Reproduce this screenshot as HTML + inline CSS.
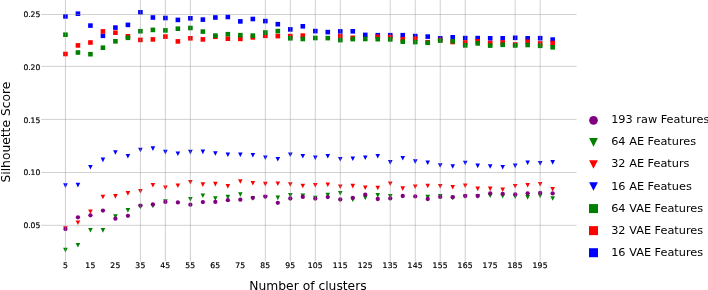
<!DOCTYPE html>
<html><head><meta charset="utf-8"><style>
html,body{margin:0;padding:0;background:#fff;}
svg{display:block;}
text{font-family:"DejaVu Sans","Liberation Sans",sans-serif;fill:#000000;stroke:#000000;stroke-width:0.2px;}
text.lg{stroke:none;}
</style></head><body>
<svg width="708" height="290" viewBox="0 0 708 290">
<rect width="708" height="290" fill="#fff"/>
<g id="markers">
<rect x="63.15" y="14.10" width="4.60" height="4.60" fill="#0000ff"/>
<rect x="75.64" y="11.40" width="4.60" height="4.60" fill="#0000ff"/>
<rect x="88.14" y="23.30" width="4.60" height="4.60" fill="#0000ff"/>
<rect x="100.63" y="33.50" width="4.60" height="4.60" fill="#0000ff"/>
<rect x="113.12" y="25.30" width="4.60" height="4.60" fill="#0000ff"/>
<rect x="125.61" y="22.60" width="4.60" height="4.60" fill="#0000ff"/>
<rect x="138.10" y="10.00" width="4.60" height="4.60" fill="#0000ff"/>
<rect x="150.60" y="15.20" width="4.60" height="4.60" fill="#0000ff"/>
<rect x="163.09" y="15.70" width="4.60" height="4.60" fill="#0000ff"/>
<rect x="175.58" y="17.60" width="4.60" height="4.60" fill="#0000ff"/>
<rect x="188.07" y="16.00" width="4.60" height="4.60" fill="#0000ff"/>
<rect x="200.57" y="17.30" width="4.60" height="4.60" fill="#0000ff"/>
<rect x="213.06" y="15.20" width="4.60" height="4.60" fill="#0000ff"/>
<rect x="225.55" y="14.70" width="4.60" height="4.60" fill="#0000ff"/>
<rect x="238.04" y="19.10" width="4.60" height="4.60" fill="#0000ff"/>
<rect x="250.54" y="16.70" width="4.60" height="4.60" fill="#0000ff"/>
<rect x="263.03" y="18.80" width="4.60" height="4.60" fill="#0000ff"/>
<rect x="275.52" y="21.90" width="4.60" height="4.60" fill="#0000ff"/>
<rect x="288.01" y="27.10" width="4.60" height="4.60" fill="#0000ff"/>
<rect x="300.51" y="24.00" width="4.60" height="4.60" fill="#0000ff"/>
<rect x="313.00" y="28.80" width="4.60" height="4.60" fill="#0000ff"/>
<rect x="325.49" y="29.80" width="4.60" height="4.60" fill="#0000ff"/>
<rect x="337.98" y="29.10" width="4.60" height="4.60" fill="#0000ff"/>
<rect x="350.48" y="29.00" width="4.60" height="4.60" fill="#0000ff"/>
<rect x="362.97" y="32.60" width="4.60" height="4.60" fill="#0000ff"/>
<rect x="375.46" y="32.90" width="4.60" height="4.60" fill="#0000ff"/>
<rect x="387.95" y="32.90" width="4.60" height="4.60" fill="#0000ff"/>
<rect x="400.45" y="32.90" width="4.60" height="4.60" fill="#0000ff"/>
<rect x="412.94" y="33.80" width="4.60" height="4.60" fill="#0000ff"/>
<rect x="425.43" y="34.30" width="4.60" height="4.60" fill="#0000ff"/>
<rect x="437.92" y="36.00" width="4.60" height="4.60" fill="#0000ff"/>
<rect x="450.42" y="35.00" width="4.60" height="4.60" fill="#0000ff"/>
<rect x="462.91" y="35.80" width="4.60" height="4.60" fill="#0000ff"/>
<rect x="475.40" y="35.80" width="4.60" height="4.60" fill="#0000ff"/>
<rect x="487.89" y="36.00" width="4.60" height="4.60" fill="#0000ff"/>
<rect x="500.39" y="36.00" width="4.60" height="4.60" fill="#0000ff"/>
<rect x="512.88" y="35.50" width="4.60" height="4.60" fill="#0000ff"/>
<rect x="525.37" y="36.00" width="4.60" height="4.60" fill="#0000ff"/>
<rect x="537.87" y="35.90" width="4.60" height="4.60" fill="#0000ff"/>
<rect x="550.36" y="37.30" width="4.60" height="4.60" fill="#0000ff"/>
<rect x="63.15" y="51.70" width="4.60" height="4.60" fill="#ff0000"/>
<rect x="75.64" y="43.10" width="4.60" height="4.60" fill="#ff0000"/>
<rect x="88.14" y="40.20" width="4.60" height="4.60" fill="#ff0000"/>
<rect x="100.63" y="29.10" width="4.60" height="4.60" fill="#ff0000"/>
<rect x="113.12" y="30.40" width="4.60" height="4.60" fill="#ff0000"/>
<rect x="125.61" y="34.00" width="4.60" height="4.60" fill="#ff0000"/>
<rect x="138.10" y="37.60" width="4.60" height="4.60" fill="#ff0000"/>
<rect x="150.60" y="37.10" width="4.60" height="4.60" fill="#ff0000"/>
<rect x="163.09" y="34.30" width="4.60" height="4.60" fill="#ff0000"/>
<rect x="175.58" y="39.10" width="4.60" height="4.60" fill="#ff0000"/>
<rect x="188.07" y="36.00" width="4.60" height="4.60" fill="#ff0000"/>
<rect x="200.57" y="37.10" width="4.60" height="4.60" fill="#ff0000"/>
<rect x="213.06" y="34.50" width="4.60" height="4.60" fill="#ff0000"/>
<rect x="225.55" y="36.40" width="4.60" height="4.60" fill="#ff0000"/>
<rect x="238.04" y="36.60" width="4.60" height="4.60" fill="#ff0000"/>
<rect x="250.54" y="35.10" width="4.60" height="4.60" fill="#ff0000"/>
<rect x="263.03" y="33.50" width="4.60" height="4.60" fill="#ff0000"/>
<rect x="275.52" y="33.80" width="4.60" height="4.60" fill="#ff0000"/>
<rect x="288.01" y="33.80" width="4.60" height="4.60" fill="#ff0000"/>
<rect x="300.51" y="33.30" width="4.60" height="4.60" fill="#ff0000"/>
<rect x="337.98" y="33.80" width="4.60" height="4.60" fill="#ff0000"/>
<rect x="350.48" y="35.50" width="4.60" height="4.60" fill="#ff0000"/>
<rect x="375.46" y="34.50" width="4.60" height="4.60" fill="#ff0000"/>
<rect x="387.95" y="34.70" width="4.60" height="4.60" fill="#ff0000"/>
<rect x="400.45" y="36.90" width="4.60" height="4.60" fill="#ff0000"/>
<rect x="412.94" y="36.40" width="4.60" height="4.60" fill="#ff0000"/>
<rect x="425.43" y="39.90" width="4.60" height="4.60" fill="#ff0000"/>
<rect x="437.92" y="37.70" width="4.60" height="4.60" fill="#ff0000"/>
<rect x="450.42" y="39.70" width="4.60" height="4.60" fill="#ff0000"/>
<rect x="462.91" y="40.20" width="4.60" height="4.60" fill="#ff0000"/>
<rect x="475.40" y="39.00" width="4.60" height="4.60" fill="#ff0000"/>
<rect x="487.89" y="40.70" width="4.60" height="4.60" fill="#ff0000"/>
<rect x="500.39" y="40.20" width="4.60" height="4.60" fill="#ff0000"/>
<rect x="512.88" y="42.20" width="4.60" height="4.60" fill="#ff0000"/>
<rect x="525.37" y="39.40" width="4.60" height="4.60" fill="#ff0000"/>
<rect x="537.87" y="41.10" width="4.60" height="4.60" fill="#ff0000"/>
<rect x="550.36" y="40.70" width="4.60" height="4.60" fill="#ff0000"/>
<rect x="63.15" y="32.40" width="4.60" height="4.60" fill="#008000"/>
<rect x="75.64" y="50.20" width="4.60" height="4.60" fill="#008000"/>
<rect x="88.14" y="51.90" width="4.60" height="4.60" fill="#008000"/>
<rect x="100.63" y="45.40" width="4.60" height="4.60" fill="#008000"/>
<rect x="113.12" y="39.00" width="4.60" height="4.60" fill="#008000"/>
<rect x="125.61" y="35.50" width="4.60" height="4.60" fill="#008000"/>
<rect x="138.10" y="28.90" width="4.60" height="4.60" fill="#008000"/>
<rect x="150.60" y="27.60" width="4.60" height="4.60" fill="#008000"/>
<rect x="163.09" y="28.10" width="4.60" height="4.60" fill="#008000"/>
<rect x="175.58" y="26.40" width="4.60" height="4.60" fill="#008000"/>
<rect x="188.07" y="25.70" width="4.60" height="4.60" fill="#008000"/>
<rect x="200.57" y="29.30" width="4.60" height="4.60" fill="#008000"/>
<rect x="213.06" y="33.30" width="4.60" height="4.60" fill="#008000"/>
<rect x="225.55" y="31.90" width="4.60" height="4.60" fill="#008000"/>
<rect x="238.04" y="32.90" width="4.60" height="4.60" fill="#008000"/>
<rect x="250.54" y="33.30" width="4.60" height="4.60" fill="#008000"/>
<rect x="263.03" y="30.20" width="4.60" height="4.60" fill="#008000"/>
<rect x="275.52" y="28.80" width="4.60" height="4.60" fill="#008000"/>
<rect x="288.01" y="36.00" width="4.60" height="4.60" fill="#008000"/>
<rect x="300.51" y="36.70" width="4.60" height="4.60" fill="#008000"/>
<rect x="313.00" y="35.70" width="4.60" height="4.60" fill="#008000"/>
<rect x="325.49" y="35.80" width="4.60" height="4.60" fill="#008000"/>
<rect x="337.98" y="37.80" width="4.60" height="4.60" fill="#008000"/>
<rect x="350.48" y="36.80" width="4.60" height="4.60" fill="#008000"/>
<rect x="362.97" y="36.70" width="4.60" height="4.60" fill="#008000"/>
<rect x="375.46" y="36.90" width="4.60" height="4.60" fill="#008000"/>
<rect x="387.95" y="37.10" width="4.60" height="4.60" fill="#008000"/>
<rect x="400.45" y="39.40" width="4.60" height="4.60" fill="#008000"/>
<rect x="412.94" y="39.80" width="4.60" height="4.60" fill="#008000"/>
<rect x="425.43" y="40.50" width="4.60" height="4.60" fill="#008000"/>
<rect x="437.92" y="38.30" width="4.60" height="4.60" fill="#008000"/>
<rect x="450.42" y="39.00" width="4.60" height="4.60" fill="#008000"/>
<rect x="462.91" y="43.10" width="4.60" height="4.60" fill="#008000"/>
<rect x="475.40" y="41.10" width="4.60" height="4.60" fill="#008000"/>
<rect x="487.89" y="43.30" width="4.60" height="4.60" fill="#008000"/>
<rect x="500.39" y="42.50" width="4.60" height="4.60" fill="#008000"/>
<rect x="512.88" y="43.20" width="4.60" height="4.60" fill="#008000"/>
<rect x="525.37" y="42.70" width="4.60" height="4.60" fill="#008000"/>
<rect x="537.87" y="43.50" width="4.60" height="4.60" fill="#008000"/>
<rect x="550.36" y="45.00" width="4.60" height="4.60" fill="#008000"/>
<path d="M63.15,183.30L67.75,183.30L65.45,187.90Z" fill="#0000ff"/>
<path d="M75.64,182.80L80.24,182.80L77.94,187.40Z" fill="#0000ff"/>
<path d="M88.14,164.90L92.73,164.90L90.44,169.50Z" fill="#0000ff"/>
<path d="M100.63,157.60L105.23,157.60L102.93,162.20Z" fill="#0000ff"/>
<path d="M113.12,150.20L117.72,150.20L115.42,154.80Z" fill="#0000ff"/>
<path d="M125.61,153.90L130.21,153.90L127.91,158.50Z" fill="#0000ff"/>
<path d="M138.10,147.70L142.71,147.70L140.41,152.30Z" fill="#0000ff"/>
<path d="M150.60,146.30L155.20,146.30L152.90,150.90Z" fill="#0000ff"/>
<path d="M163.09,149.80L167.69,149.80L165.39,154.40Z" fill="#0000ff"/>
<path d="M175.58,151.40L180.18,151.40L177.88,156.00Z" fill="#0000ff"/>
<path d="M188.07,149.80L192.68,149.80L190.38,154.40Z" fill="#0000ff"/>
<path d="M200.57,149.60L205.17,149.60L202.87,154.20Z" fill="#0000ff"/>
<path d="M213.06,151.20L217.66,151.20L215.36,155.80Z" fill="#0000ff"/>
<path d="M225.55,152.50L230.15,152.50L227.85,157.10Z" fill="#0000ff"/>
<path d="M238.04,152.50L242.64,152.50L240.34,157.10Z" fill="#0000ff"/>
<path d="M250.54,152.90L255.14,152.90L252.84,157.50Z" fill="#0000ff"/>
<path d="M263.03,155.40L267.63,155.40L265.33,160.00Z" fill="#0000ff"/>
<path d="M275.52,157.00L280.12,157.00L277.82,161.60Z" fill="#0000ff"/>
<path d="M288.01,152.50L292.62,152.50L290.31,157.10Z" fill="#0000ff"/>
<path d="M300.51,153.90L305.11,153.90L302.81,158.50Z" fill="#0000ff"/>
<path d="M313.00,155.60L317.60,155.60L315.30,160.20Z" fill="#0000ff"/>
<path d="M325.49,153.90L330.09,153.90L327.79,158.50Z" fill="#0000ff"/>
<path d="M337.98,157.00L342.58,157.00L340.28,161.60Z" fill="#0000ff"/>
<path d="M350.48,156.40L355.08,156.40L352.78,161.00Z" fill="#0000ff"/>
<path d="M362.97,155.40L367.57,155.40L365.27,160.00Z" fill="#0000ff"/>
<path d="M375.46,153.90L380.06,153.90L377.76,158.50Z" fill="#0000ff"/>
<path d="M387.95,160.10L392.56,160.10L390.25,164.70Z" fill="#0000ff"/>
<path d="M400.45,156.00L405.05,156.00L402.75,160.60Z" fill="#0000ff"/>
<path d="M412.94,159.30L417.54,159.30L415.24,163.90Z" fill="#0000ff"/>
<path d="M425.43,160.50L430.03,160.50L427.73,165.10Z" fill="#0000ff"/>
<path d="M437.92,163.20L442.52,163.20L440.22,167.80Z" fill="#0000ff"/>
<path d="M450.42,164.20L455.02,164.20L452.72,168.80Z" fill="#0000ff"/>
<path d="M462.91,160.70L467.51,160.70L465.21,165.30Z" fill="#0000ff"/>
<path d="M475.40,163.60L480.00,163.60L477.70,168.20Z" fill="#0000ff"/>
<path d="M487.89,164.20L492.50,164.20L490.19,168.80Z" fill="#0000ff"/>
<path d="M500.39,164.90L504.99,164.90L502.69,169.50Z" fill="#0000ff"/>
<path d="M512.88,163.60L517.48,163.60L515.18,168.20Z" fill="#0000ff"/>
<path d="M525.37,160.50L529.97,160.50L527.67,165.10Z" fill="#0000ff"/>
<path d="M537.87,161.10L542.46,161.10L540.16,165.70Z" fill="#0000ff"/>
<path d="M550.36,160.10L554.96,160.10L552.66,164.70Z" fill="#0000ff"/>
<path d="M63.15,226.20L67.75,226.20L65.45,230.80Z" fill="#ff0000"/>
<path d="M75.64,220.40L80.24,220.40L77.94,225.00Z" fill="#ff0000"/>
<path d="M88.14,209.40L92.73,209.40L90.44,214.00Z" fill="#ff0000"/>
<path d="M100.63,194.70L105.23,194.70L102.93,199.30Z" fill="#ff0000"/>
<path d="M113.12,194.10L117.72,194.10L115.42,198.70Z" fill="#ff0000"/>
<path d="M125.61,191.10L130.21,191.10L127.91,195.70Z" fill="#ff0000"/>
<path d="M138.10,189.00L142.71,189.00L140.41,193.60Z" fill="#ff0000"/>
<path d="M150.60,183.00L155.20,183.00L152.90,187.60Z" fill="#ff0000"/>
<path d="M163.09,185.40L167.69,185.40L165.39,190.00Z" fill="#ff0000"/>
<path d="M175.58,183.50L180.18,183.50L177.88,188.10Z" fill="#ff0000"/>
<path d="M188.07,180.00L192.68,180.00L190.38,184.60Z" fill="#ff0000"/>
<path d="M200.57,182.30L205.17,182.30L202.87,186.90Z" fill="#ff0000"/>
<path d="M213.06,181.80L217.66,181.80L215.36,186.40Z" fill="#ff0000"/>
<path d="M225.55,184.10L230.15,184.10L227.85,188.70Z" fill="#ff0000"/>
<path d="M238.04,179.20L242.64,179.20L240.34,183.80Z" fill="#ff0000"/>
<path d="M250.54,180.90L255.14,180.90L252.84,185.50Z" fill="#ff0000"/>
<path d="M263.03,181.80L267.63,181.80L265.33,186.40Z" fill="#ff0000"/>
<path d="M275.52,181.40L280.12,181.40L277.82,186.00Z" fill="#ff0000"/>
<path d="M288.01,182.20L292.62,182.20L290.31,186.80Z" fill="#ff0000"/>
<path d="M300.51,183.70L305.11,183.70L302.81,188.30Z" fill="#ff0000"/>
<path d="M313.00,182.90L317.60,182.90L315.30,187.50Z" fill="#ff0000"/>
<path d="M325.49,182.50L330.09,182.50L327.79,187.10Z" fill="#ff0000"/>
<path d="M337.98,184.50L342.58,184.50L340.28,189.10Z" fill="#ff0000"/>
<path d="M350.48,183.80L355.08,183.80L352.78,188.40Z" fill="#ff0000"/>
<path d="M362.97,185.50L367.57,185.50L365.27,190.10Z" fill="#ff0000"/>
<path d="M375.46,185.70L380.06,185.70L377.76,190.30Z" fill="#ff0000"/>
<path d="M387.95,181.40L392.56,181.40L390.25,186.00Z" fill="#ff0000"/>
<path d="M400.45,186.30L405.05,186.30L402.75,190.90Z" fill="#ff0000"/>
<path d="M412.94,184.40L417.54,184.40L415.24,189.00Z" fill="#ff0000"/>
<path d="M425.43,183.70L430.03,183.70L427.73,188.30Z" fill="#ff0000"/>
<path d="M437.92,184.00L442.52,184.00L440.22,188.60Z" fill="#ff0000"/>
<path d="M450.42,185.00L455.02,185.00L452.72,189.60Z" fill="#ff0000"/>
<path d="M462.91,183.40L467.51,183.40L465.21,188.00Z" fill="#ff0000"/>
<path d="M475.40,186.60L480.00,186.60L477.70,191.20Z" fill="#ff0000"/>
<path d="M487.89,186.60L492.50,186.60L490.19,191.20Z" fill="#ff0000"/>
<path d="M500.39,187.50L504.99,187.50L502.69,192.10Z" fill="#ff0000"/>
<path d="M512.88,183.90L517.48,183.90L515.18,188.50Z" fill="#ff0000"/>
<path d="M525.37,182.90L529.97,182.90L527.67,187.50Z" fill="#ff0000"/>
<path d="M537.87,182.00L542.46,182.00L540.16,186.60Z" fill="#ff0000"/>
<path d="M550.36,187.00L554.96,187.00L552.66,191.60Z" fill="#ff0000"/>
<path d="M63.15,247.80L67.75,247.80L65.45,252.40Z" fill="#008000"/>
<path d="M75.64,242.90L80.24,242.90L77.94,247.50Z" fill="#008000"/>
<path d="M88.14,227.90L92.73,227.90L90.44,232.50Z" fill="#008000"/>
<path d="M100.63,228.10L105.23,228.10L102.93,232.70Z" fill="#008000"/>
<path d="M113.12,214.20L117.72,214.20L115.42,218.80Z" fill="#008000"/>
<path d="M125.61,208.10L130.21,208.10L127.91,212.70Z" fill="#008000"/>
<path d="M138.10,204.60L142.71,204.60L140.41,209.20Z" fill="#008000"/>
<path d="M150.60,203.70L155.20,203.70L152.90,208.30Z" fill="#008000"/>
<path d="M163.09,199.20L167.69,199.20L165.39,203.80Z" fill="#008000"/>
<path d="M188.07,197.00L192.68,197.00L190.38,201.60Z" fill="#008000"/>
<path d="M200.57,193.50L205.17,193.50L202.87,198.10Z" fill="#008000"/>
<path d="M213.06,196.20L217.66,196.20L215.36,200.80Z" fill="#008000"/>
<path d="M225.55,194.80L230.15,194.80L227.85,199.40Z" fill="#008000"/>
<path d="M238.04,192.20L242.64,192.20L240.34,196.80Z" fill="#008000"/>
<path d="M250.54,196.20L255.14,196.20L252.84,200.80Z" fill="#008000"/>
<path d="M263.03,194.90L267.63,194.90L265.33,199.50Z" fill="#008000"/>
<path d="M275.52,195.60L280.12,195.60L277.82,200.20Z" fill="#008000"/>
<path d="M288.01,193.10L292.62,193.10L290.31,197.70Z" fill="#008000"/>
<path d="M300.51,193.60L305.11,193.60L302.81,198.20Z" fill="#008000"/>
<path d="M313.00,195.80L317.60,195.80L315.30,200.40Z" fill="#008000"/>
<path d="M325.49,192.70L330.09,192.70L327.79,197.30Z" fill="#008000"/>
<path d="M337.98,191.00L342.58,191.00L340.28,195.60Z" fill="#008000"/>
<path d="M350.48,197.40L355.08,197.40L352.78,202.00Z" fill="#008000"/>
<path d="M362.97,195.60L367.57,195.60L365.27,200.20Z" fill="#008000"/>
<path d="M375.46,193.10L380.06,193.10L377.76,197.70Z" fill="#008000"/>
<path d="M387.95,193.90L392.56,193.90L390.25,198.50Z" fill="#008000"/>
<path d="M425.43,194.80L430.03,194.80L427.73,199.40Z" fill="#008000"/>
<path d="M437.92,193.90L442.52,193.90L440.22,198.50Z" fill="#008000"/>
<path d="M450.42,195.70L455.02,195.70L452.72,200.30Z" fill="#008000"/>
<path d="M462.91,194.40L467.51,194.40L465.21,199.00Z" fill="#008000"/>
<path d="M475.40,194.20L480.00,194.20L477.70,198.80Z" fill="#008000"/>
<path d="M487.89,193.40L492.50,193.40L490.19,198.00Z" fill="#008000"/>
<path d="M500.39,194.00L504.99,194.00L502.69,198.60Z" fill="#008000"/>
<path d="M512.88,194.40L517.48,194.40L515.18,199.00Z" fill="#008000"/>
<path d="M525.37,195.10L529.97,195.10L527.67,199.70Z" fill="#008000"/>
<path d="M537.87,193.60L542.46,193.60L540.16,198.20Z" fill="#008000"/>
<path d="M550.36,196.20L554.96,196.20L552.66,200.80Z" fill="#008000"/>
<circle cx="65.45" cy="229.00" r="2.15" fill="#800080"/>
<circle cx="77.94" cy="217.30" r="2.15" fill="#800080"/>
<circle cx="90.44" cy="215.30" r="2.15" fill="#800080"/>
<circle cx="102.93" cy="210.60" r="2.15" fill="#800080"/>
<circle cx="115.42" cy="218.70" r="2.15" fill="#800080"/>
<circle cx="127.91" cy="215.80" r="2.15" fill="#800080"/>
<circle cx="140.41" cy="205.60" r="2.15" fill="#800080"/>
<circle cx="152.90" cy="204.50" r="2.15" fill="#800080"/>
<circle cx="165.39" cy="201.90" r="2.15" fill="#800080"/>
<circle cx="177.88" cy="202.40" r="2.15" fill="#800080"/>
<circle cx="190.38" cy="204.70" r="2.15" fill="#800080"/>
<circle cx="202.87" cy="202.10" r="2.15" fill="#800080"/>
<circle cx="215.36" cy="201.90" r="2.15" fill="#800080"/>
<circle cx="227.85" cy="200.20" r="2.15" fill="#800080"/>
<circle cx="240.34" cy="199.70" r="2.15" fill="#800080"/>
<circle cx="252.84" cy="197.80" r="2.15" fill="#800080"/>
<circle cx="265.33" cy="196.60" r="2.15" fill="#800080"/>
<circle cx="277.82" cy="202.80" r="2.15" fill="#800080"/>
<circle cx="290.31" cy="198.50" r="2.15" fill="#800080"/>
<circle cx="302.81" cy="196.90" r="2.15" fill="#800080"/>
<circle cx="315.30" cy="198.60" r="2.15" fill="#800080"/>
<circle cx="327.79" cy="197.10" r="2.15" fill="#800080"/>
<circle cx="340.28" cy="199.50" r="2.15" fill="#800080"/>
<circle cx="352.78" cy="197.90" r="2.15" fill="#800080"/>
<circle cx="365.27" cy="194.70" r="2.15" fill="#800080"/>
<circle cx="377.76" cy="199.00" r="2.15" fill="#800080"/>
<circle cx="390.25" cy="198.40" r="2.15" fill="#800080"/>
<circle cx="402.75" cy="196.00" r="2.15" fill="#800080"/>
<circle cx="415.24" cy="196.40" r="2.15" fill="#800080"/>
<circle cx="427.73" cy="199.00" r="2.15" fill="#800080"/>
<circle cx="440.22" cy="196.90" r="2.15" fill="#800080"/>
<circle cx="452.72" cy="197.20" r="2.15" fill="#800080"/>
<circle cx="465.21" cy="195.90" r="2.15" fill="#800080"/>
<circle cx="477.70" cy="195.90" r="2.15" fill="#800080"/>
<circle cx="490.19" cy="193.40" r="2.15" fill="#800080"/>
<circle cx="502.69" cy="193.80" r="2.15" fill="#800080"/>
<circle cx="515.18" cy="194.40" r="2.15" fill="#800080"/>
<circle cx="527.67" cy="193.30" r="2.15" fill="#800080"/>
<circle cx="540.16" cy="192.90" r="2.15" fill="#800080"/>
<circle cx="552.66" cy="193.40" r="2.15" fill="#800080"/>
</g>
<g id="grid" stroke="#999999" stroke-opacity="0.45" stroke-width="1" fill="none">
<line x1="41.2" x2="576.6" y1="225.30" y2="225.30"/>
<line x1="41.2" x2="576.6" y1="172.50" y2="172.50"/>
<line x1="41.2" x2="576.6" y1="119.40" y2="119.40"/>
<line x1="41.2" x2="576.6" y1="66.40" y2="66.40"/>
<line x1="41.2" x2="576.6" y1="14.50" y2="14.50"/>
<line x1="65.45" x2="65.45" y1="0" y2="261.4"/>
<line x1="140.41" x2="140.41" y1="0" y2="261.4"/>
<line x1="165.39" x2="165.39" y1="0" y2="261.4"/>
<line x1="190.38" x2="190.38" y1="0" y2="261.4"/>
<line x1="265.33" x2="265.33" y1="0" y2="261.4"/>
<line x1="290.31" x2="290.31" y1="0" y2="261.4"/>
<line x1="315.30" x2="315.30" y1="0" y2="261.4"/>
<line x1="340.28" x2="340.28" y1="0" y2="261.4"/>
<line x1="390.25" x2="390.25" y1="0" y2="261.4"/>
<line x1="415.24" x2="415.24" y1="0" y2="261.4"/>
<line x1="440.22" x2="440.22" y1="0" y2="261.4"/>
<line x1="465.21" x2="465.21" y1="0" y2="261.4"/>
<line x1="515.18" x2="515.18" y1="0" y2="261.4"/>
<line x1="540.16" x2="540.16" y1="0" y2="261.4"/>
</g>
<g id="legend">
<circle cx="593.50" cy="120.30" r="4.35" fill="#800080"/>
<path d="M589.10,138.07L597.90,138.07L593.50,146.67Z" fill="#008000"/>
<path d="M589.10,160.14L597.90,160.14L593.50,168.74Z" fill="#ff0000"/>
<path d="M589.10,182.21L597.90,182.21L593.50,190.81Z" fill="#0000ff"/>
<rect x="589.00" y="204.08" width="9.00" height="9.00" fill="#008000"/>
<rect x="589.00" y="226.15" width="9.00" height="9.00" fill="#ff0000"/>
<rect x="589.00" y="248.22" width="9.00" height="9.00" fill="#0000ff"/>
</g>
<g id="text">
<text x="40.3" y="228.09" text-anchor="end" font-size="7.6" letter-spacing="0">0.05</text>
<text x="40.3" y="175.40" text-anchor="end" font-size="7.6" letter-spacing="0">0.10</text>
<text x="40.3" y="122.71" text-anchor="end" font-size="7.6" letter-spacing="0">0.15</text>
<text x="40.3" y="70.02" text-anchor="end" font-size="7.6" letter-spacing="0">0.20</text>
<text x="40.3" y="17.33" text-anchor="end" font-size="7.6" letter-spacing="0">0.25</text>
<text x="65.45" y="268.3" text-anchor="middle" font-size="7.7" letter-spacing="0.2">5</text>
<text x="90.44" y="268.3" text-anchor="middle" font-size="7.7" letter-spacing="0.2">15</text>
<text x="115.42" y="268.3" text-anchor="middle" font-size="7.7" letter-spacing="0.2">25</text>
<text x="140.41" y="268.3" text-anchor="middle" font-size="7.7" letter-spacing="0.2">35</text>
<text x="165.39" y="268.3" text-anchor="middle" font-size="7.7" letter-spacing="0.2">45</text>
<text x="190.38" y="268.3" text-anchor="middle" font-size="7.7" letter-spacing="0.2">55</text>
<text x="215.36" y="268.3" text-anchor="middle" font-size="7.7" letter-spacing="0.2">65</text>
<text x="240.34" y="268.3" text-anchor="middle" font-size="7.7" letter-spacing="0.2">75</text>
<text x="265.33" y="268.3" text-anchor="middle" font-size="7.7" letter-spacing="0.2">85</text>
<text x="290.31" y="268.3" text-anchor="middle" font-size="7.7" letter-spacing="0.2">95</text>
<text x="315.30" y="268.3" text-anchor="middle" font-size="7.7" letter-spacing="0.2">105</text>
<text x="340.28" y="268.3" text-anchor="middle" font-size="7.7" letter-spacing="0.2">115</text>
<text x="365.27" y="268.3" text-anchor="middle" font-size="7.7" letter-spacing="0.2">125</text>
<text x="390.25" y="268.3" text-anchor="middle" font-size="7.7" letter-spacing="0.2">135</text>
<text x="415.24" y="268.3" text-anchor="middle" font-size="7.7" letter-spacing="0.2">145</text>
<text x="440.22" y="268.3" text-anchor="middle" font-size="7.7" letter-spacing="0.2">155</text>
<text x="465.21" y="268.3" text-anchor="middle" font-size="7.7" letter-spacing="0.2">165</text>
<text x="490.19" y="268.3" text-anchor="middle" font-size="7.7" letter-spacing="0.2">175</text>
<text x="515.18" y="268.3" text-anchor="middle" font-size="7.7" letter-spacing="0.2">185</text>
<text x="540.16" y="268.3" text-anchor="middle" font-size="7.7" letter-spacing="0.2">195</text>
<text x="308.0" y="289.6" class="lg" text-anchor="middle" font-size="12.3">Number of clusters</text>
<text class="lg" transform="translate(10.3,132.1) rotate(-90)" text-anchor="middle" font-size="12.3">Silhouette Score</text>
<text class="lg" x="611.2" y="123.00" font-size="11.3">193 raw Features</text>
<text class="lg" x="611.2" y="145.20" font-size="11.3">64 AE Features</text>
<text class="lg" x="611.2" y="167.30" font-size="11.3">32 AE Featurs</text>
<text class="lg" x="611.2" y="189.80" font-size="11.3">16 AE Featues</text>
<text class="lg" x="611.2" y="211.90" font-size="11.3">64 VAE Features</text>
<text class="lg" x="611.2" y="233.95" font-size="11.3">32 VAE Features</text>
<text class="lg" x="611.2" y="256.00" font-size="11.3">16 VAE Features</text>
</g>
</svg>
</body></html>
